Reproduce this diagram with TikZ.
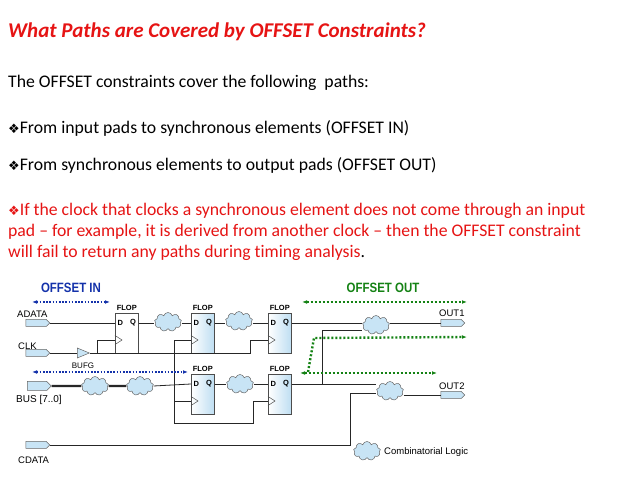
\documentclass[tikz,border=0pt]{standalone}
\usepackage{fontspec}
\setmainfont{Carlito}[Ligatures=NoCommon]
\newfontfamily\dv{DejaVu Sans}
\newfontfamily\ls{Liberation Sans}
\newfontfamily\lsn{Liberation Sans}[FakeStretch=0.85]
\usetikzlibrary{shapes.symbols,shapes.geometric,calc,arrows.meta}
\definecolor{tred}{RGB}{230,20,20}
\definecolor{iblue}{RGB}{20,50,170}
\definecolor{ogreen}{RGB}{20,130,20}
\definecolor{cfill}{RGB}{200,228,245}
\definecolor{pfill}{RGB}{190,222,242}
\newcommand{\bul}{{\dv\fontsize{13}{13}\selectfont ❖}}
\begin{document}
\begin{tikzpicture}[x=1pt,y=-1pt,
  txt/.style={anchor=west,inner sep=0,font=\fontsize{17.7}{20}\selectfont},
  lbl/.style={inner sep=0,font=\ls\fontsize{9.5}{10}\selectfont},
  flop/.style={draw=black!70,line width=0.6pt,minimum width=23,minimum height=40,inner sep=0,anchor=north west},
  wflop/.style={flop,fill=white},
  bflop/.style={flop,left color=white,right color=pfill},
  ftl/.style={inner sep=0,font=\ls\bfseries\fontsize{7.5}{7.5}\selectfont},
  pin/.style={inner sep=0,font=\ls\bfseries\fontsize{7.5}{7.5}\selectfont},
  cl/.style={cloud,cloud puffs=9,aspect=1.5,draw=black!60,fill=cfill,minimum width=27,minimum height=19,inner sep=0,line width=0.5pt},
  pad/.style={signal,signal to=east,draw=black!60,fill=cfill,minimum width=24,minimum height=7,inner sep=0,line width=0.5pt},
  w/.style={line width=0.8pt,black!85},
  bdot/.style={iblue,dash pattern=on 1.6pt off 1.6pt,line width=2pt,{Latex[length=5pt]}-{Latex[length=5pt]}},
  gdot/.style={ogreen,dash pattern=on 2pt off 2pt,line width=2.4pt},
]
\useasboundingbox (0,0) rectangle (638,478);
\fill[white] (0,0) rectangle (638,478);
\node[txt,font=\bfseries\itshape\fontsize{21}{24}\selectfont,text=tred] (title) at (8,32) {What Paths are Covered by OFFSET Constraints?};
\node[txt] (l1) at (8,83) {The OFFSET constraints cover the following\ \ paths:};
\node[txt] (l2) at (8,128) {\bul From input pads to synchronous elements (OFFSET IN)};
\node[txt] (l3) at (8,165) {\bul From synchronous elements to output pads (OFFSET OUT)};
\node[txt,text=tred] (l4) at (8,211) {\bul If the clock that clocks a synchronous element does not come through an input};
\node[txt,text=tred] (l5) at (8,232) {pad -- for example, it is derived from another clock -- then the OFFSET constraint};
\node[txt,text=tred] (l6) at (8,253) {will fail to return any paths during timing analysis{\color{black}.}};

% headings
\node[inner sep=0,text=iblue,font=\lsn\bfseries\fontsize{13.5}{14}\selectfont] (oin) at (71,288) {OFFSET IN};
\node[inner sep=0,text=ogreen,font=\lsn\bfseries\fontsize{13.5}{14}\selectfont] (oout) at (383,288) {OFFSET OUT};

% flops
\node[wflop] (f1) at (115,313) {};
\node[bflop] (f2) at (191,313) {};
\node[bflop] (f3) at (268,313) {};
\node[bflop] (f4) at (191,374) {};
\node[bflop] (f5) at (268,374) {};
\foreach \f in {f1,f2,f3,f4,f5}{
  \node[ftl,anchor=south] (\f t) at ($(\f.north)+(0,-2.5)$) {FLOP};
  \node[pin,anchor=west] (\f d) at ($(\f.north west)+(2.5,10)$) {D};
  \node[pin,anchor=east] (\f q) at ($(\f.north east)+(-2.5,10)$) {Q};
  \coordinate (\f D) at ($(\f.north west)+(0,10)$);
  \coordinate (\f Q) at ($(\f.north east)+(0,10)$);
  \coordinate (\f C) at ($(\f.north west)+(0,27)$);
  \draw[black!70,line width=0.5pt] ($(\f C)+(0,-4.5)$) -- ++(7,4.5) -- ++(-7,4.5);
}

% pads
\node[pad] (pa) at (36,323) {};
\node[pad] (pc) at (36,353) {};
\node[pad,minimum height=9] (pb) at (37,386) {};
\node[pad] (pd) at (36,445) {};
\node[pad] (po1) at (451,323) {};
\node[pad] (po2) at (451,395) {};
\node[lbl,anchor=west] at (17,314) {ADATA};
\node[lbl,anchor=west] at (18,346) {CLK};
\node[lbl,anchor=west,font=\ls\fontsize{10}{10}\selectfont] at (16,400) {BUS [7..0]};
\node[lbl,anchor=west] at (18,460) {CDATA};
\node[lbl,anchor=west] at (439,313) {OUT1};
\node[lbl,anchor=west] at (439,386) {OUT2};

% buffer
\node[isosceles triangle,draw=black!60,fill=cfill,minimum width=10,minimum height=11,inner sep=0,line width=0.5pt,anchor=west] (buf) at (77,353) {};
\node[lbl,font=\ls\fontsize{8}{8}\selectfont] at (83,366) {BUFG};

% clouds
\node[cl] (c1) at (168,322) {};
\node[cl] (c2) at (239,321) {};
\node[cl] (c3) at (376,325) {};
\node[cl] (c4) at (95,386) {};
\node[cl] (c5) at (140,386) {};
\node[cl] (c6) at (240,384) {};
\node[cl] (c7) at (390,391) {};
\node[cl] (cl) at (367,451) {};
\node[lbl,anchor=west,font=\ls\fontsize{9.5}{10}\selectfont] at (384,452) {Combinatorial Logic};

% wires
\draw[w] (pa.east) -- (pa.east |- f1D) -- (f1D);
\draw[w] (f1Q) -- (c1.west |- f1Q); \draw[w] (c1.east |- f2D) -- (f2D);
\draw[w] (f2Q) -- (c2.west |- f2Q); \draw[w] (c2.east |- f3D) -- (f3D);
\draw[w] (f3Q) -- (c3.west |- f3Q);
\draw[w] (c3.east |- po1.west) -- (po1.west);
\draw[w] (pc.east) -- (buf.west);
\draw[w] (buf.east) -- (250,353) |- (f3C);
\draw[w] (97,353) |- (f1C);
\draw[w] (f2C) -- (174,340) -- (174,423) -| (253,401) -- (f5C);
\draw[w] (174,401) -- (f4C);
\draw[line width=2.2pt,black!85] (pb.east) -- (c4.west);
\draw[line width=2.2pt,black!85] (c4.east) -- (c5.west);
\draw[w] (c5.east) -- (f4D);
\draw[w] (f4Q) -- (c6.west |- f4Q); \draw[w] (c6.east |- f5D) -- (f5D);
\draw[w] (f5Q) -- (c7.west |- f5Q);
\draw[w] (322,384) |- (c3.west |- 0,330);
\draw[w] (pd.east) -- (350,445) |- (c7.west |- 0,393);
\draw[w] (c7.east |- po2.west) -- (po2.west);

% dotted arrows
\draw[bdot] (32,302) -- (110,302);
\draw[bdot] (32,372) -- (188,372);
\draw[gdot,{Latex[length=5pt]}-{Latex[length=5pt]}] (302,302) -- (467,302);
\draw[gdot,{Latex[length=5pt]}-{Latex[length=5pt]}] (300,373) -- (437,373);
\draw[gdot,-{Latex[length=5pt]}] (308,372) -- (314,338) -- (467,337);
\end{tikzpicture}
\end{document}
